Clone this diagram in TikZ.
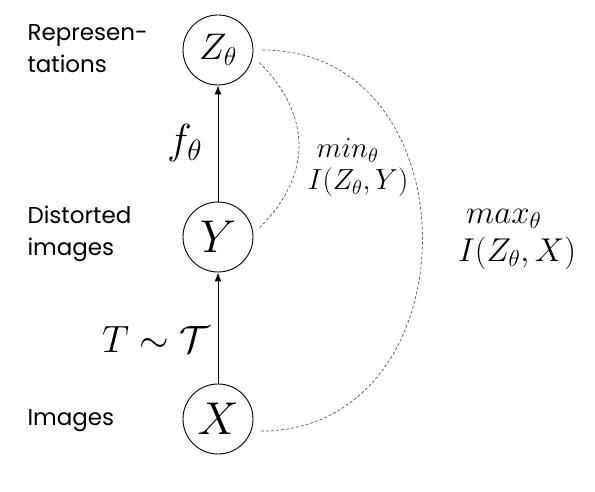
\RequirePackage{fix-cm}
\documentclass[tikz,border=0pt]{standalone}
\usepackage{fontspec}
\setmainfont{Poppins}
\usetikzlibrary{arrows.meta}
\usetikzlibrary{calc}

\begin{document}
\begin{tikzpicture}[x=1pt,y=-1pt,
    var/.style={draw, circle, line width=0.9pt, minimum size=70pt, inner sep=0pt},
    flow/.style={line width=1pt, -{Latex[length=9pt,width=7pt]}},
    info/.style={gray!70!black, line width=0.7pt, dash pattern=on 3pt off 2pt, shorten <=9pt, shorten >=9pt},
    lbl/.style={anchor=west, align=left, font=\fontsize{23}{32}\selectfont}]
      \useasboundingbox (0,0) rectangle (595,492);

      % Variables
      \node[var] (Z) at (218,50) {\fontsize{37}{37}\selectfont$Z_\theta$};
      \node[var] (Y) at (218,237) {\fontsize{46}{46}\selectfont$Y$};
      \node[var] (X) at (218,419) {\fontsize{46}{46}\selectfont$X$};

      % Names
      \node[lbl] (rep) at (24,49) {Represen-\\tations};
      \node[lbl] (dis) at (24,234) {Distorted\\images};
      \node[lbl] (img) at (24,421) {Images};

      % Mappings
      \draw[flow] (X) -- (Y) node[pos=0.4, left=4pt] {\fontsize{38}{38}\selectfont$T\sim\mathcal{T}$};
      \draw[flow] (Y) -- (Z) node[midway, left=12pt] {\fontsize{42}{42}\selectfont$f_\theta$};

      % Information terms
      \draw[info] (Z.-10) to[out=-45, in=45, looseness=1.2] (Y.5);
      \draw[info] (Z.0) to[out=0, in=0, looseness=1.5] (X.-20);

      \node[align=left, font=\fontsize{29}{32}\selectfont] (mn) at (358,168) {\hspace{9pt}$min_\theta$\\$I(Z_\theta,Y)$};
      \node[align=left, font=\fontsize{33}{38}\selectfont] (mx) at (517,240) {\hspace{8pt}$max_\theta$\\$I(Z_\theta,X)$};

  \end{tikzpicture}
\end{document}
